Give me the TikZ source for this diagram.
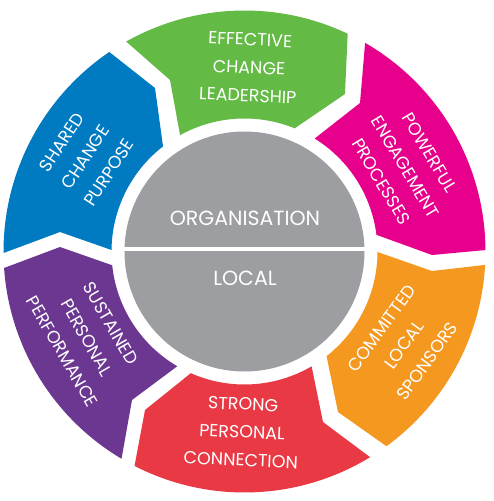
\documentclass[tikz,border=0pt]{standalone}
\usepackage{fontspec}
\setmainfont{Poppins}
\definecolor{cgreen}{HTML}{63BA45}
\definecolor{cblue}{HTML}{007BC2}
\definecolor{cpink}{HTML}{E6008B}
\definecolor{corange}{HTML}{F59820}
\definecolor{cred}{HTML}{E93944}
\definecolor{cpurple}{HTML}{6B3791}
\definecolor{cgray}{HTML}{9D9EA2}
\tikzset{
  lbl/.style={text=white, font=\fontsize{17.5}{28}\selectfont, align=center, inner sep=0pt},
  ctr/.style={text=white, font=\fontsize{20.5}{24}\selectfont, inner sep=0pt},
  divider/.style={white, line width=3.7pt}
}
\begin{document}
\begin{tikzpicture}[x=1pt,y=1pt]
\useasboundingbox (-244.5,-249.5) rectangle (249.5,251.5);
% blue
\fill[cblue] (180.36:241) -- (-184.5,19.5) -- (179.35:133)
  arc[start angle=179.35,end angle=127.78,radius=133] -- (-89.5,163.5) -- (124.12:241)
  arc[start angle=124.12,end angle=180.36,radius=241] -- cycle;
% green
\fill[cgreen] (119.4:241) -- (-74.5,171.5) -- (118.97:133)
  arc[start angle=118.97,end angle=67.84,radius=133] -- (100.5,157.5) -- (64.65:241)
  arc[start angle=64.65,end angle=119.4,radius=241] -- cycle;
% pink
\fill[cpink] (59.97:241) -- (115.5,148.5) -- (58.15:133)
  arc[start angle=58.15,end angle=7.2,radius=133] -- (187.5,-3.5) -- (0.35:241)
  arc[start angle=0.35,end angle=59.97,radius=241] -- cycle;
% orange
\fill[corange] (-3.19:241) -- (187.5,-19.5) -- (-0.22:133)
  arc[start angle=-0.22,end angle=-51.9,radius=133] -- (93.5,-160.5) -- (-53.91:241)
  arc[start angle=-53.91,end angle=-3.19,radius=241] -- cycle;
% red
\fill[cred] (-58.59:241) -- (78.5,-170.5) -- (-59.7:133)
  arc[start angle=-59.7,end angle=-113.81,radius=133] -- (-99.5,-158.5) -- (-117.15:241)
  arc[start angle=-117.15,end angle=-58.59,radius=241] -- cycle;
% purple
\fill[cpurple] (-120.68:241) -- (-112.5,-148.5) -- (-120.37:133)
  arc[start angle=-120.37,end angle=-174.05,radius=133] -- (-184.5,4.5) -- (-176.08:241)
  arc[start angle=-176.08,end angle=-120.68,radius=241] -- cycle;
% centre
\fill[cgray] (0,0) circle[radius=120];
\coordinate (dl) at (-122,2.5);
\coordinate (dr) at (122,2.5);
\draw[divider] (dl) -- (dr);
\node[ctr] (org) at (0.5,32.7) {ORGANISATION};
\node[ctr] (loc) at (0.5,-27.2) {LOCAL};
% labels
\node[lbl, rotate=-2.5] (tgreen) at (4.5,184) {EFFECTIVE\\CHANGE\\LEADERSHIP};
\node[lbl, rotate=57] (tblue) at (-159.2,94.2) {SHARED\\CHANGE\\PURPOSE};
\node[lbl, rotate=-59] (tpink) at (160.8,84.5) {POWERFUL\\ENGAGEMENT\\PROCESSES};
\node[lbl, rotate=54] (torange) at (159.8,-93.2) {COMMITTED\\LOCAL\\SPONSORS};
\node[lbl, rotate=-2.5] (tred) at (-2.5,-180.5) {STRONG\\PERSONAL\\CONNECTION};
\node[lbl, rotate=-60] (tpurple) at (-157.8,-86) {SUSTAINED\\PERSONAL\\PERFORMANCE};
\end{tikzpicture}
\end{document}
